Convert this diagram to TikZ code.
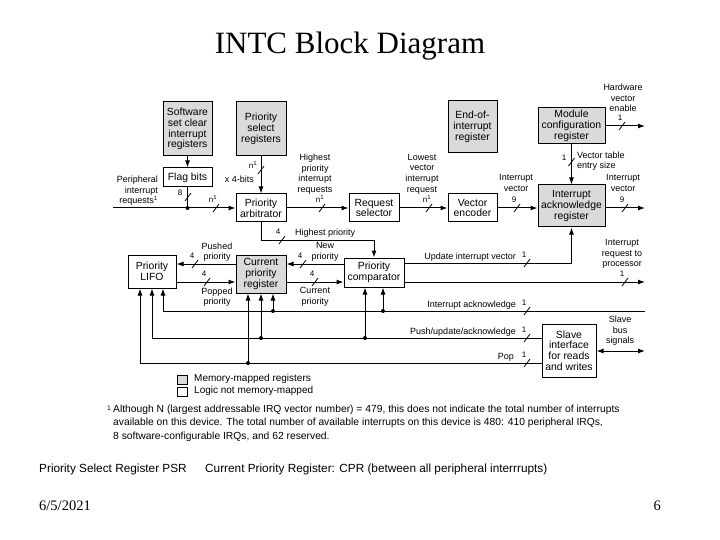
\documentclass[tikz,border=0pt]{standalone}
\usepackage{fontspec}
\setmainfont{Liberation Sans}
\newfontfamily\serifface{Liberation Serif}
\usetikzlibrary{arrows.meta}
\definecolor{regfill}{RGB}{218,218,218}
\begin{document}
\begin{tikzpicture}[x=1pt,y=-1pt,
  blk/.style={draw, line width=1pt, align=center, inner sep=0pt, font=\fontsize{10.4}{10.8}\selectfont},
  reg/.style={blk, fill=regfill},
  ln/.style={line width=1pt},
  arr/.style={ln, -{Latex[length=7pt,width=5pt]}},
  darr/.style={ln, {Latex[length=7pt,width=5pt]}-{Latex[length=7pt,width=5pt]}},
  lbl/.style={font=\fontsize{9}{10.6}\selectfont, align=center, inner sep=0pt},
  num/.style={font=\fontsize{8}{9}\selectfont, inner sep=0pt},
  dotn/.style={circle, fill, inner sep=0pt, minimum size=4pt},
  slash/.pic={\draw[line width=0.8pt] (-3,4) -- (3,-4);},
  legbox/.style={draw, line width=0.7pt, minimum width=10pt, minimum height=9pt, inner sep=0pt},
  foot/.style={font=\fontsize{11.8}{12}\selectfont, inner sep=0pt},
]
\useasboundingbox (0,0) rectangle (720,540);

% title
\node[font=\serifface\fontsize{31}{31}\selectfont, anchor=base, inner sep=0pt] (title) at (350,54) {INTC Block Diagram};

% blocks
\node[reg, minimum width=49pt, minimum height=54pt] (sw) at (187.5,129) {Software\\set clear\\interrupt\\registers};
\node[blk, minimum width=49pt, minimum height=19pt] (flag) at (187.5,177.5) {Flag bits};
\node[reg, minimum width=50pt, minimum height=54pt] (psel) at (261,129) {Priority\\select\\registers};
\node[blk, minimum width=50pt, minimum height=28pt] (arb) at (261,208) {Priority\\arbitrator};
\node[blk, minimum width=50pt, minimum height=28pt] (rsel) at (374,208) {Request\\selector};
\node[blk, minimum width=49pt, minimum height=28pt] (venc) at (472.5,208) {Vector\\encoder};
\node[reg, minimum width=49pt, minimum height=52pt] (eoi) at (472.5,127) {End-of-\\interrupt\\register};
\node[reg, minimum width=67pt, minimum height=36pt] (mcr) at (571.5,126) {Module\\configuration\\register};
\node[reg, minimum width=67pt, minimum height=42pt] (iar) at (571.5,206) {Interrupt\\acknowledge\\register};
\node[blk, minimum width=48pt, minimum height=33pt] (lifo) at (152,271.5) {Priority\\LIFO};
\node[reg, minimum width=50pt, minimum height=38pt] (cpr) at (261,274) {Current\\priority\\register};
\node[blk, minimum width=60pt, minimum height=29pt] (cmp) at (374,272.5) {Priority\\comparator};
\node[blk, minimum width=54pt, minimum height=53pt] (slave) at (569,350.5) {Slave\\interface\\for reads\\and writes};

% coordinates
\coordinate (pin) at (113,208);
\coordinate (fdot) at (187.5,208);
\coordinate (iout) at (645,208);
\coordinate (hwout) at (645,126);
\coordinate (hp1) at (261,240);
\coordinate (hp2) at (374,240);
\coordinate (yp) at (0,264);
\coordinate (yq) at (0,282);
\coordinate (yu) at (0,263);
\coordinate (irq) at (645,282);
\coordinate (ia0) at (163,311);
\coordinate (ia1) at (645,311);
\coordinate (iad1) at (273,311);
\coordinate (iad2) at (383,311);
\coordinate (pu0) at (152,338);
\coordinate (pud1) at (261,338);
\coordinate (pud2) at (365,338);
\coordinate (pp0) at (140,363);
\coordinate (ppd1) at (248,363);
\coordinate (sb) at (645,351);

% top connectors
\draw[arr] (sw.south) -- (flag.north);
\draw[ln] (flag.south) -- (fdot);
\draw[arr] (pin) -- (arb.west);
\node[dotn] at (fdot) {};
\pic at (188,197) {slash}; \node[num] at (180,193) {8};
\pic at (216,208) {slash}; \node[num] at (213,199) {n\textsuperscript{1}};
\node[lbl, align=right, anchor=east] (perlbl) at (158,191) {Peripheral\\interrupt\\requests\textsuperscript{1}};

\draw[arr] (psel.south) -- (arb.north);
\pic at (261,170) {slash}; \node[num] at (253,165) {n\textsuperscript{1}};
\node[lbl, anchor=east] (x4) at (254,179) {x 4-bits};

\draw[arr] (arb.east) -- (rsel.west);
\pic at (322,208) {slash}; \node[num] at (320,199) {n\textsuperscript{1}};
\node[lbl] (hpir) at (315,174) {Highest\\priority\\interrupt\\requests};

\draw[arr] (rsel.east) -- (venc.west);
\pic at (429,208) {slash}; \node[num] at (427,199) {n\textsuperscript{1}};
\node[lbl] (lvir) at (422,174) {Lowest\\vector\\interrupt\\request};

\draw[arr] (venc.east) -- (venc.east -| iar.west);
\pic at (517,208) {slash}; \node[num] at (514,200) {9};
\node[lbl] (ivl1) at (516,183) {Interrupt\\vector};

\draw[arr] (iar.east |- iout) -- (iout);
\pic at (625,208) {slash}; \node[num] at (622,200) {9};
\node[lbl] (ivl2) at (623,183) {Interrupt\\vector};

\draw[arr] (mcr.east) -- (hwout);
\pic at (622,126) {slash}; \node[num] at (620,118) {1};
\node[lbl] (hwl) at (623,98) {Hardware\\vector\\enable};

\draw[arr] (mcr.south) -- (iar.north);
\pic at (571.5,162) {slash}; \node[num] at (564,158) {1};
\node[lbl, align=left, anchor=west] (vtl) at (577,161) {Vector table\\entry size};

% highest priority to comparator
\draw[arr] (arb.south) -- (hp1) -- (hp2) -- (cmp.north);
\pic at (282,240) {slash}; \node[num] at (278,232) {4};
\node[lbl, anchor=west] (hpl) at (295,233) {Highest priority};

% priority paths
\draw[arr] (cpr.west |- yp) -- (lifo.east |- yp);
\draw[arr] (lifo.east |- yq) -- (cpr.west |- yq);
\draw[arr] (cmp.west |- yp) -- (cpr.east |- yp);
\draw[arr] (cpr.east |- yq) -- (cmp.west |- yq);
\pic at (195,264) {slash}; \node[num] at (192,256) {4};
\pic at (207,282) {slash}; \node[num] at (204,274) {4};
\pic at (303,264) {slash}; \node[num] at (300,256) {4};
\pic at (315,282) {slash}; \node[num] at (312,274) {4};
\node[lbl] (pushl) at (217,252) {Pushed\\priority};
\node[lbl] (popl) at (217,297) {Popped\\priority};
\node[lbl] (newl) at (325,252) {New\\priority};
\node[lbl] (curl) at (315,297) {Current\\priority};

% update interrupt vector
\draw[arr] (cmp.east |- yu) -| (iar.south);
\pic at (527,263) {slash}; \node[num] at (524,255) {1};
\node[lbl, anchor=east] (uivl) at (516,257) {Update interrupt vector};

% interrupt request to processor
\draw[arr] (cmp.east |- yq) -- (irq);
\pic at (625,282) {slash}; \node[num] at (622,274) {1};
\node[lbl] (irql) at (622,254) {Interrupt\\request to\\processor};

% interrupt acknowledge
\draw[ln] (ia1) -- (ia0);
\draw[arr] (ia0) -- (ia0 |- lifo.south);
\draw[arr] (iad1) -- (iad1 |- cpr.south);
\draw[arr] (iad2) -- (iad2 |- cmp.south);
\node[dotn] at (iad1) {};
\node[dotn] at (iad2) {};
\pic at (527,311) {slash}; \node[num] at (524,303) {1};
\node[lbl, anchor=east] (ial) at (516,305) {Interrupt acknowledge};

% push/update/acknowledge
\draw[ln] (slave.west |- pu0) -- (pu0);
\draw[arr] (pu0) -- (lifo.south);
\draw[arr] (pud1) -- (cpr.south);
\draw[arr] (pud2) -- (pud2 |- cmp.south);
\node[dotn] at (pud1) {};
\node[dotn] at (pud2) {};
\pic at (527,338) {slash}; \node[num] at (524,330) {1};
\node[lbl, anchor=east] (pual) at (516,332) {Push/update/acknowledge};

% pop
\draw[ln] (slave.west |- pp0) -- (pp0);
\draw[arr] (pp0) -- (pp0 |- lifo.south);
\draw[arr] (ppd1) -- (ppd1 |- cpr.south);
\node[dotn] at (ppd1) {};
\pic at (527,363) {slash}; \node[num] at (524,355) {1};
\node[lbl, anchor=east] (popsl) at (514,357) {Pop};

% slave bus
\draw[darr] (slave.east |- sb) -- (sb);
\node[lbl] (sbl) at (620,331) {Slave\\bus\\signals};

% legend
\node[legbox, fill=regfill] (lg1) at (182,379.5) {};
\node[legbox, fill=white] (lg2) at (182,391.5) {};
\node[font=\fontsize{10}{11}\selectfont, anchor=west, inner sep=0pt] (lgt1) at (194,379) {Memory-mapped registers};
\node[font=\fontsize{10}{11}\selectfont, anchor=west, inner sep=0pt] (lgt2) at (194,391) {Logic not memory-mapped};

% footnote
\node[font=\fontsize{6.8}{7}\selectfont, inner sep=0pt, anchor=base west] (fnm) at (107,410) {1};
\node[font=\fontsize{10.3}{13.2}\selectfont, align=left, anchor=north west, inner sep=0pt] (fnt) at (113,405) {Although N (largest addressable IRQ vector number) = 479, this does not indicate the total number of interrupts\\available on this device. The total number of available interrupts on this device is 480: 410 peripheral IRQs,\\8 software-configurable IRQs, and 62 reserved.};

% slide footer
\node[foot, anchor=base west] (psr) at (39,472) {Priority Select Register PSR};
\node[foot, anchor=base west] (cprt) at (205,472) {Current Priority Register: CPR (between all peripheral interrrupts)};
\node[font=\serifface\fontsize{14.5}{15}\selectfont, anchor=base west, inner sep=0pt] (date) at (39,510) {6/5/2021};
\node[font=\serifface\fontsize{14.5}{15}\selectfont, anchor=base east, inner sep=0pt] (pg) at (661,510) {6};
\end{tikzpicture}
\end{document}
